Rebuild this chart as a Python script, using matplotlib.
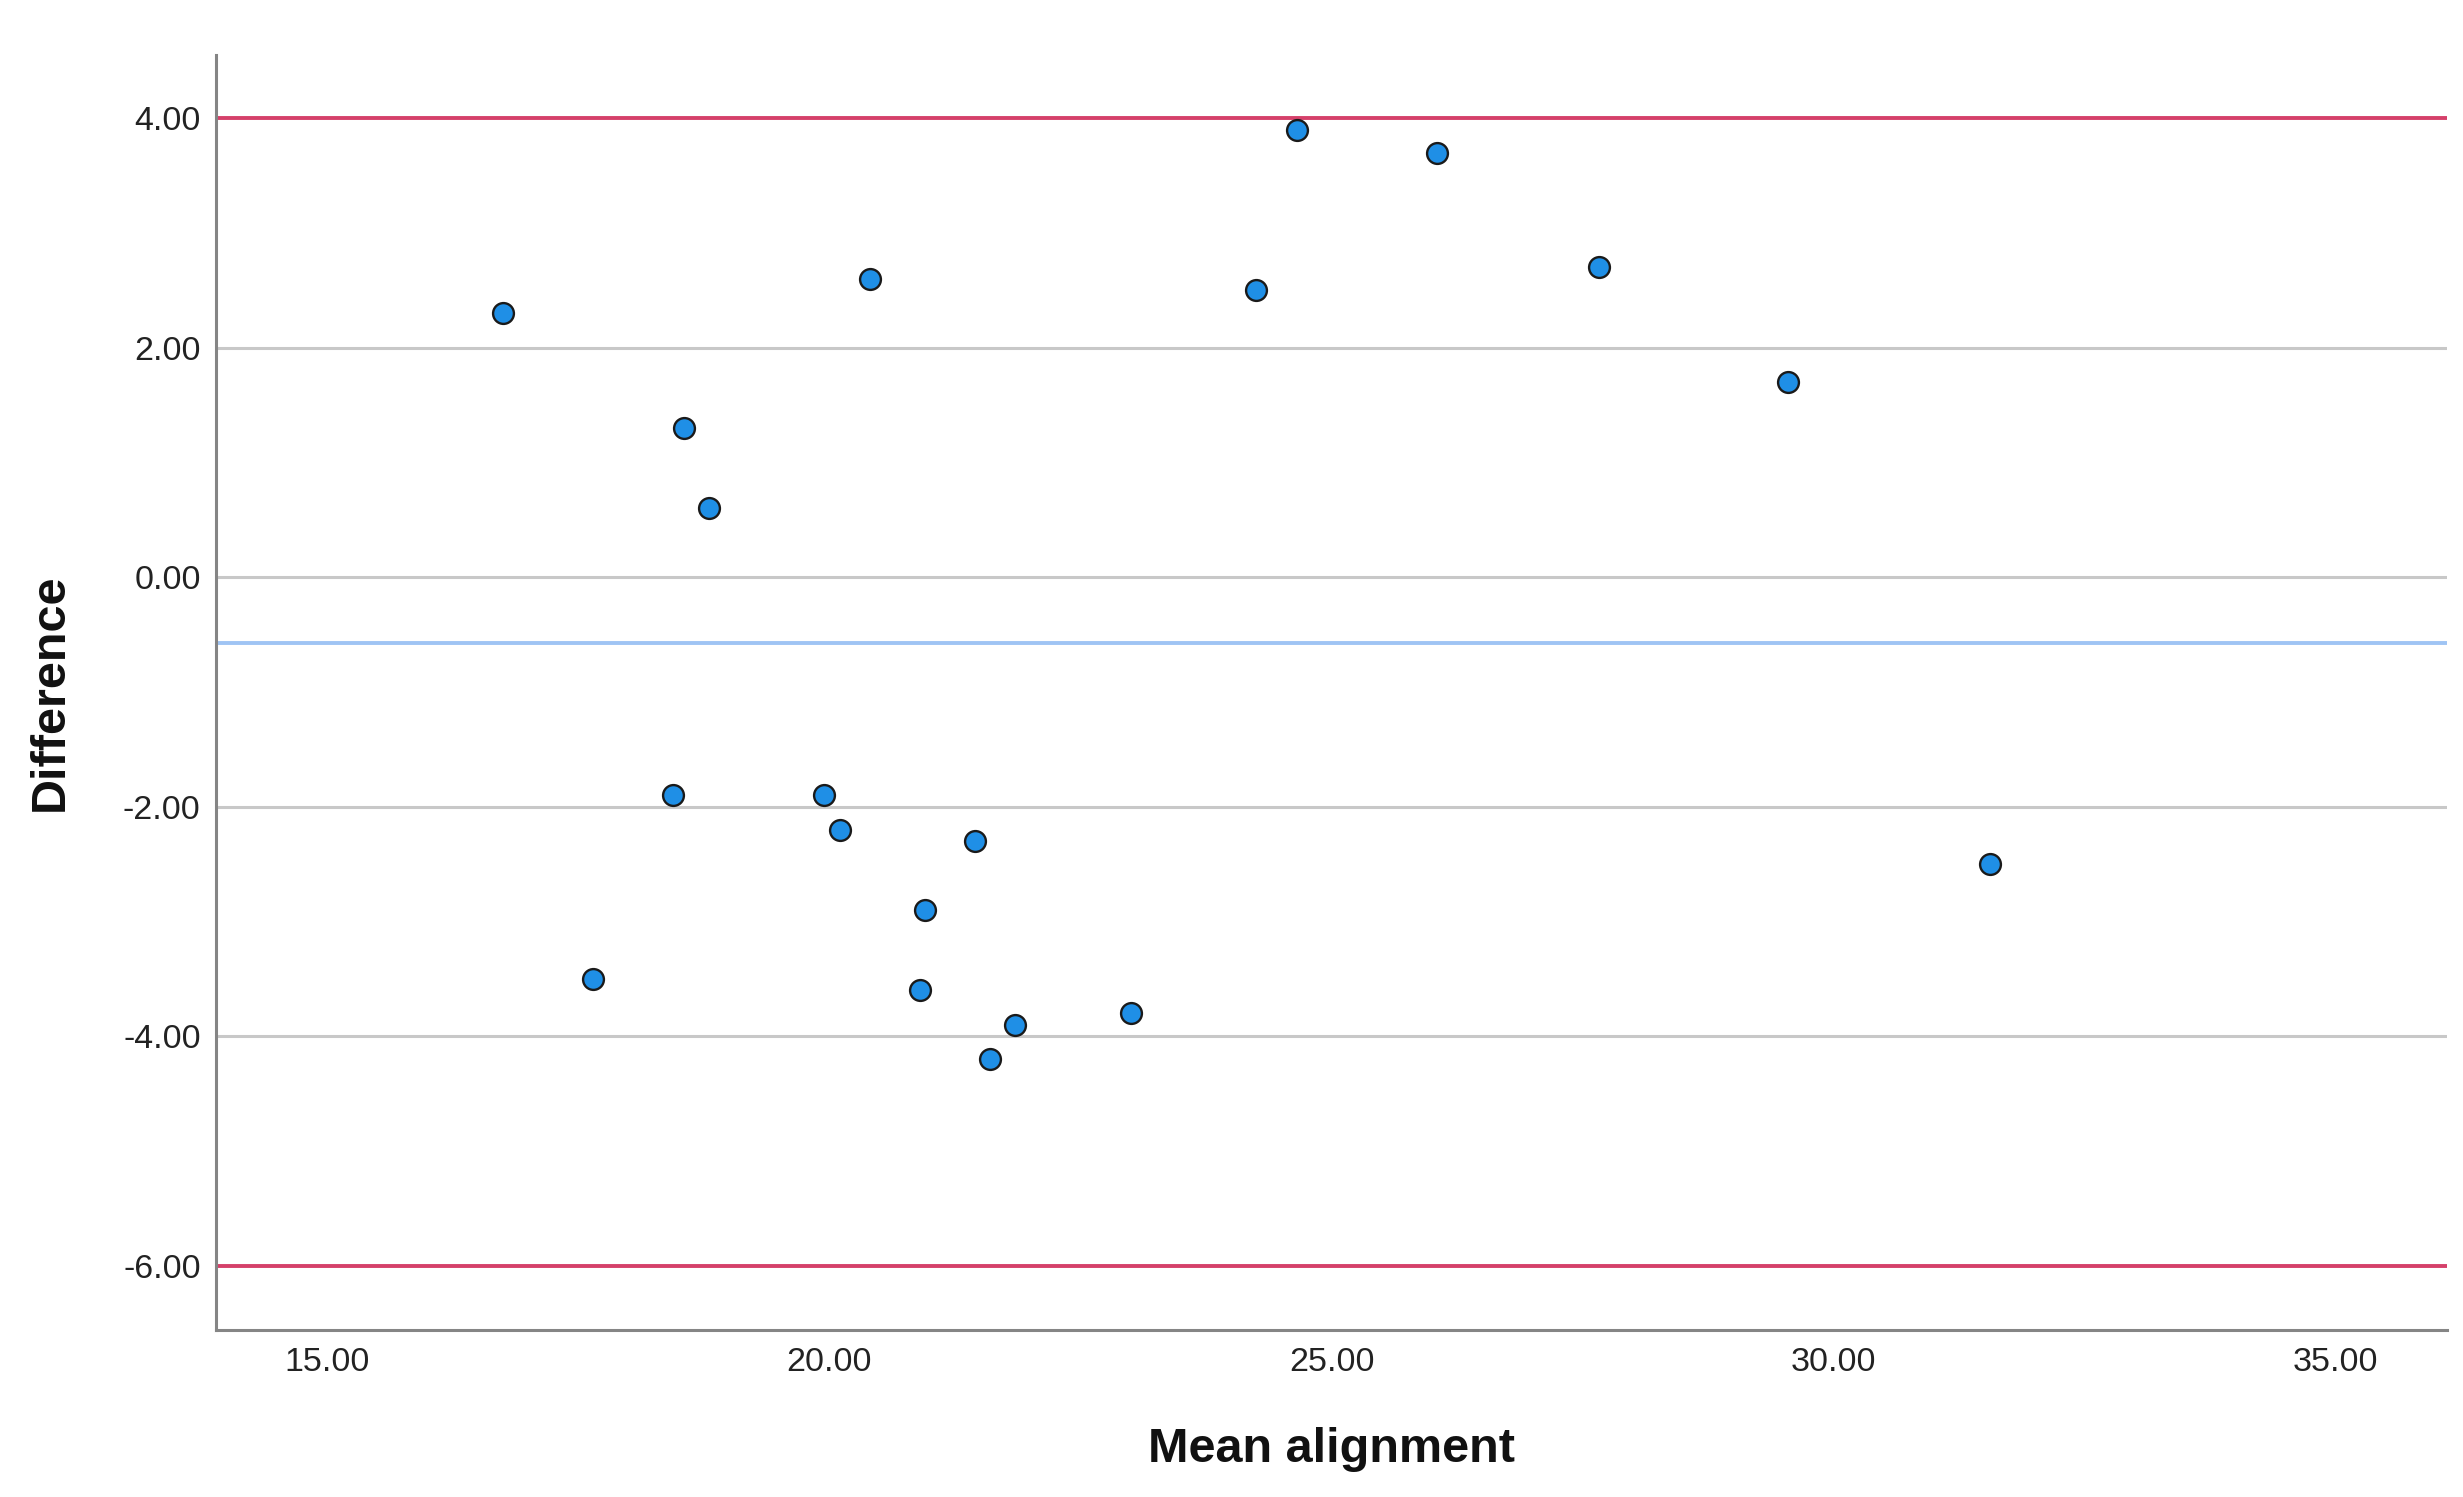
import matplotlib
matplotlib.use("Agg")
import matplotlib.pyplot as plt
from matplotlib.ticker import FormatStrFormatter

# ---- data ----
mean_alignment = [16.75, 18.55, 18.80, 20.40, 24.25, 24.66, 26.05, 27.66, 29.55,
                  18.44, 17.64, 19.95, 20.10, 21.45, 20.95, 20.90, 21.85, 21.60,
                  23.00, 31.56]
difference = [2.30, 1.30, 0.60, 2.60, 2.50, 3.90, 3.70, 2.70, 1.70,
              -1.90, -3.50, -1.90, -2.20, -2.30, -2.90, -3.60, -3.90, -4.20,
              -3.80, -2.50]
mean_diff = -0.57
upper_loa = 4.00
lower_loa = -6.00
x_ticks = [15, 20, 25, 30, 35]
y_ticks = [-6, -4, -2, 0, 2, 4]
x_label = "Mean alignment"
y_label = "Difference"

plt.rcParams['font.family'] = ['Liberation Sans', 'DejaVu Sans']

W, H = 2463, 1497
fig = plt.figure(figsize=(W / 100, H / 100), dpi=100)
ax_left, ax_right, ax_top, ax_bottom = 216, 2447, 55, 1330
ax = fig.add_axes([ax_left / W, 1 - ax_bottom / H,
                   (ax_right - ax_left) / W, (ax_bottom - ax_top) / H])

ax.set_xlim(13.89, 36.11)
ax.set_ylim(-6.56, 4.55)

# grid lines at y ticks
for yv in y_ticks:
    if yv in (upper_loa, lower_loa):
        continue
    ax.axhline(yv, color='#c8c8c8', lw=2.2, zorder=1)

ax.axhline(upper_loa, color='#d5406a', lw=2.8, zorder=2)
ax.axhline(lower_loa, color='#d5406a', lw=2.8, zorder=2)
ax.axhline(mean_diff, color='#9fc4f4', lw=2.8, zorder=2)

ax.plot(mean_alignment, difference, linestyle='none', marker='o', ms=15,
        mfc='#1f8fe6', mec='#1a1a1a', mew=1.7, zorder=3)

ax.set_xticks(x_ticks)
ax.set_yticks(y_ticks)
ax.xaxis.set_major_formatter(FormatStrFormatter('%.2f'))
ax.yaxis.set_major_formatter(FormatStrFormatter('%.2f'))
ax.tick_params(axis='both', length=0, labelsize=24.5, labelcolor='#222222')
ax.tick_params(axis='x', pad=12)
ax.tick_params(axis='y', pad=11)

for s in ('top', 'right'):
    ax.spines[s].set_visible(False)
for s in ('left', 'bottom'):
    ax.spines[s].set_color('#858585')
    ax.spines[s].set_linewidth(2.2)

ax.set_xlabel(x_label, fontsize=35, fontweight='bold', color='#111111')
ax.xaxis.label.set_va('center')
ax.xaxis.set_label_coords(0.5, (ax_bottom - 1450) / (ax_bottom - ax_top))

ax.set_ylabel(y_label, fontsize=35, fontweight='bold', color='#111111')
ax.yaxis.label.set_va('center')
ax.yaxis.set_label_coords((50 - ax_left) / (ax_right - ax_left), 0.5)

fig.savefig('out.png', dpi=100, facecolor='white')
